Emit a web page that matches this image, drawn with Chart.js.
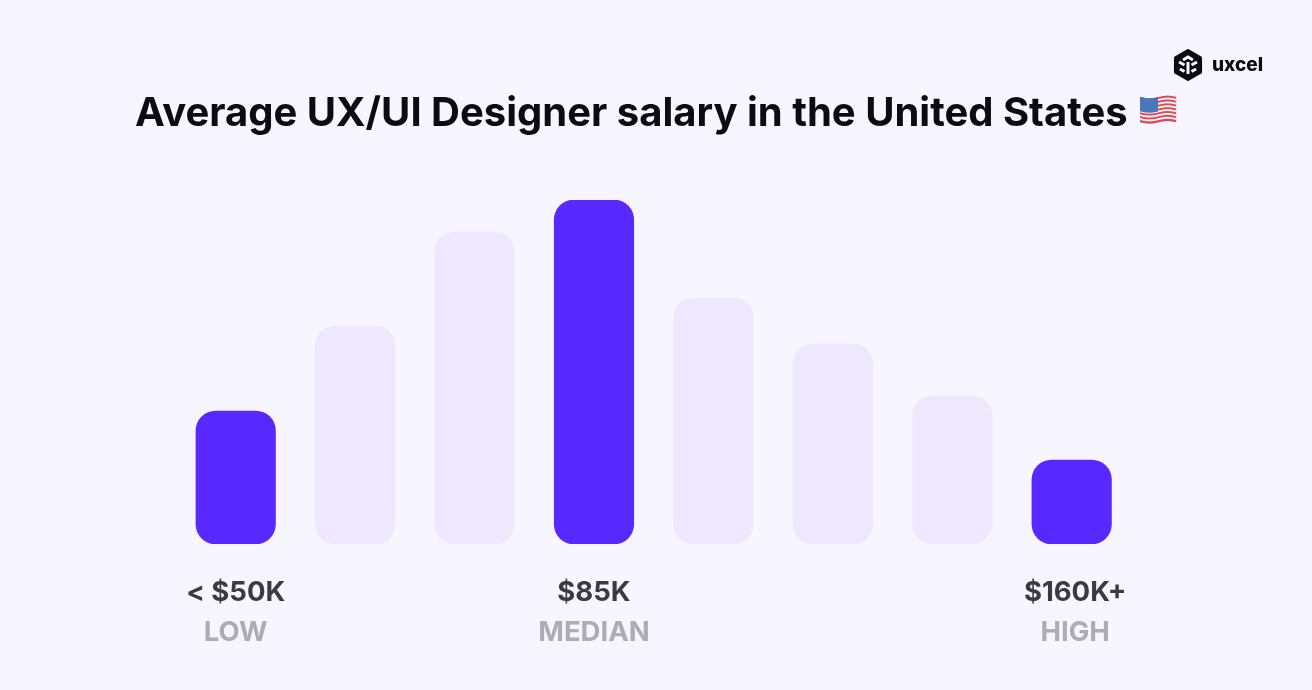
<!DOCTYPE html>
<html>
<head>
<meta charset="utf-8">
<title>Average UX/UI Designer salary</title>
<script src="https://cdn.jsdelivr.net/npm/chart.js@4"></script>
<style>
  html, body { margin: 0; padding: 0; background: #f7f5ff; }
  #wrap { width: 1312px; height: 690px; }
</style>
</head>
<body>
<div id="wrap"><canvas id="salaryChart" width="1312" height="690"></canvas></div>
<script>
// values
const categories = ['< $50K', '$60K', '$70K', '$85K', '$100K', '$120K', '$140K', '$160K+'];
const barValues = [133, 218, 312, 344, 246, 200, 148, 84];
const highlighted = [true, false, false, true, false, false, false, true];
const salaryLabels = ['< $50K', '', '', '$85K', '', '', '', '$160K+'];
const levelLabels = ['LOW', '', '', 'MEDIAN', '', '', '', 'HIGH'];

const titleText = 'Average UX/UI Designer salary in the United States';
const brandText = 'uxcel';

const decorPlugin = {
    id: 'decor',
    afterDraw(chart) {
        const { ctx, scales } = chart;
        ctx.save();

        // title
        ctx.font = '700 40px Inter';
        ctx.fillStyle = '#0b0b14';
        ctx.textAlign = 'left';
        ctx.textBaseline = 'alphabetic';
        ctx.fillText(titleText, 135, 126);

        drawFlag(ctx, 1140, 97, 36, 25);
        drawLogo(ctx, 1188, 65);

        ctx.font = '800 19px Inter';
        ctx.fillStyle = '#0b0b14';
        ctx.fillText(brandText, 1212, 71);

        // labels under the bars
        ctx.textAlign = 'center';
        salaryLabels.forEach((label, i) => {
            if (!label) return;
            // the last label sits a little right of its bar
            const x = scales.x.getPixelForValue(i) + (i === 7 ? 3.5 : 0);
            ctx.font = '700 27.5px Inter';
            ctx.fillStyle = '#3a3a47';
            ctx.fillText(label, x, 601);
            ctx.fillStyle = '#acabb6';
            ctx.fillText(levelLabels[i], x, 641);
        });
        ctx.restore();
    }
};

function drawFlag(ctx, x, y, w, h) {
    const rows = 13;
    const rowH = h / rows;
    // small wave so that it looks like the emoji
    const wave = (px) => Math.sin((px / w) * Math.PI * 2) * 1.3;
    for (let px = 0; px < w; px++) {
        for (let r = 0; r < rows; r++) {
            ctx.fillStyle = r % 2 === 0 ? '#dd4a58' : '#f4eef2';
            ctx.fillRect(x + px, y + r * rowH + wave(px), 1.2, rowH + 0.4);
        }
        if (px < w * 0.5) {
            ctx.fillStyle = '#4a77b8';
            ctx.fillRect(x + px, y + wave(px), 1.2, rowH * 7.5);
        }
    }
}

function drawLogo(ctx, cx, cy) {
    const r = 16;
    ctx.fillStyle = '#0b0b14';
    ctx.strokeStyle = '#0b0b14';
    ctx.lineWidth = 3;
    ctx.lineJoin = 'round';
    ctx.beginPath();
    for (let i = 0; i < 6; i++) {
        const a = Math.PI / 6 + (i * Math.PI) / 3;
        const px = cx + Math.cos(a) * (r - 1.5);
        const py = cy + Math.sin(a) * (r - 1.5);
        if (i === 0) ctx.moveTo(px, py); else ctx.lineTo(px, py);
    }
    ctx.closePath();
    ctx.fill();
    ctx.stroke();

    // white mark inside the hexagon
    ctx.strokeStyle = '#f7f5ff';
    ctx.lineWidth = 3;
    ctx.lineJoin = 'miter';
    ctx.beginPath();
    ctx.moveTo(cx - 5, cy - 5);
    ctx.lineTo(cx, cy - 8);
    ctx.lineTo(cx + 5, cy - 5);
    ctx.moveTo(cx, cy - 3);
    ctx.lineTo(cx, cy + 9);
    ctx.moveTo(cx - 9, cy - 3);
    ctx.lineTo(cx - 3.5, cy);
    ctx.moveTo(cx + 9, cy - 3);
    ctx.lineTo(cx + 3.5, cy);
    ctx.moveTo(cx - 8, cy + 4);
    ctx.lineTo(cx - 3.5, cy + 6.5);
    ctx.moveTo(cx + 8, cy + 4);
    ctx.lineTo(cx + 3.5, cy + 6.5);
    ctx.stroke();
}

new Chart(document.getElementById('salaryChart').getContext('2d'), {
    type: 'bar',
    data: {
        labels: categories,
        datasets: [{
            data: barValues,
            backgroundColor: highlighted.map(on => on ? '#5728ff' : '#ede8fe'),
            borderRadius: 20,
            borderSkipped: false,
            barThickness: 79.5
        }]
    },
    options: {
        responsive: false,
        animation: false,
        devicePixelRatio: 1,
        layout: { padding: { left: 176, right: 180.6, top: 200, bottom: 146 } },
        plugins: {
            legend: { display: false },
            tooltip: { enabled: false }
        },
        scales: {
            x: { display: false },
            y: { display: false, min: 0, max: 344 }
        }
    },
    plugins: [decorPlugin]
});
</script>
</body>
</html>
